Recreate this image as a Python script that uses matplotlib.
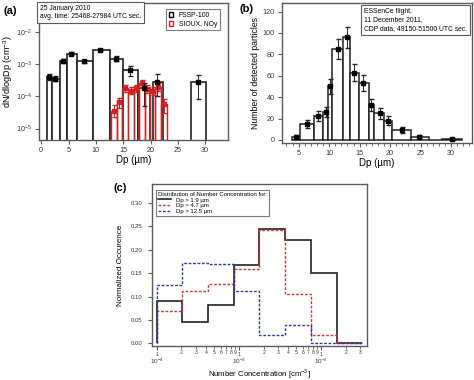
import matplotlib
matplotlib.use("Agg")
import matplotlib.pyplot as plt
import numpy as np
from matplotlib.patches import Patch
from matplotlib.ticker import FixedLocator, NullLocator, FixedFormatter, MultipleLocator

plt.rcParams['font.family'] = ['Liberation Sans', 'DejaVu Sans']
plt.rcParams['mathtext.fontset'] = 'custom'
plt.rcParams['mathtext.rm'] = 'Liberation Sans'

# ---------------- Panel (a) data ----------------
fssp_edges_lo = [1.1, 2.0, 3.4, 4.7, 6.6, 9.5, 12.6, 15.05, 17.8, 20.4, 27.4]
fssp_edges_hi = [2.0, 3.4, 4.7, 6.6, 9.5, 12.6, 15.05, 17.8, 19.9, 22.25, 30.1]
fssp_vals = [4.1e-4, 3.5e-4, 1.2e-3, 2.1e-3, 1.2e-3, 2.7e-3, 1.45e-3, 6.3e-4, 1.8e-4, 2.8e-4, 2.7e-4]
fssp_x = [1.5, 2.55, 3.9, 5.4, 7.9, 10.7, 13.6, 16.3, 18.8, 21.2, 28.7]
fssp_err_lo = [3.3e-4, 2.9e-4, 1.05e-3, 1.9e-3, 1.08e-3, 2.5e-3, 1.2e-3, 4.2e-4, 5.0e-5, 1.0e-4, 8.3e-5]
fssp_err_hi = [5.0e-4, 4.3e-4, 1.4e-3, 2.3e-3, 1.32e-3, 2.9e-3, 1.75e-3, 8.9e-4, 2.5e-4, 4.9e-4, 4.7e-4]

sioux_edges = [12.85, 13.85, 14.85, 15.9, 16.9, 17.9, 18.9, 19.9, 20.9, 21.95, 22.95]
sioux_vals = [3.6e-5, 6.5e-5, 1.8e-4, 1.5e-4, 1.8e-4, 2.5e-4, 1.7e-4, 1.5e-4, 1.9e-4, 5.9e-5]
sioux_x = [13.35, 14.3, 15.35, 16.4, 17.4, 18.4, 19.4, 20.4, 21.45, 22.4]
sioux_err_lo = [2.2e-5, 4.4e-5, 1.4e-4, 1.15e-4, 1.4e-4, 1.9e-4, 1.3e-4, 1.1e-4, 1.45e-4, 3.0e-5]
sioux_err_hi = [5.2e-5, 9.0e-5, 2.3e-4, 1.95e-4, 2.3e-4, 3.1e-4, 2.2e-4, 2.0e-4, 2.5e-4, 8.2e-5]

# ---------------- Panel (b) data ----------------
cdp_edges = [3.95, 5.2, 7.57, 9.05, 9.75, 10.5, 12.3, 13.5, 14.9, 16.5, 17.4, 19.05, 20.3, 23.4, 26.3, 28.5, 31.8]
cdp_vals = [3, 15, 22, 26, 50, 85, 96, 63, 53, 33, 25, 18, 9, 3, 0, 1]
cdp_x = [4.5, 6.4, 8.2, 9.5, 10.2, 11.5, 12.9, 14.1, 15.5, 16.9, 18.3, 19.7, 21.9, 24.7, 30.2]
cdp_pts = [3, 15, 22, 26, 50, 85, 96, 63, 53, 33, 25, 18, 9, 3, 1]
cdp_err = [1.5, 4, 4.7, 5, 7, 9, 10, 8, 7.3, 5.7, 5, 4.2, 3, 1.5, 1]

# ---------------- Panel (c) data ----------------
conc_edges = [1.0e-4, 2.05e-4, 4.22e-4, 8.66e-4, 1.78e-3, 3.65e-3, 7.5e-3, 1.54e-2, 3.16e-2]
occ_19 = [0.090, 0.046, 0.082, 0.168, 0.245, 0.222, 0.150, 0.002]
occ_47 = [0.070, 0.112, 0.126, 0.158, 0.242, 0.106, 0.0175, 0.001]
occ_125 = [0.124, 0.172, 0.169, 0.113, 0.018, 0.040, 0.001, 0.001]

frame_col = '#5a5a5a'
red = '#d42020'
fig = plt.figure(figsize=(4.74, 3.80), dpi=100)

def style_frame(ax):
    for s in ax.spines.values():
        s.set_color(frame_col)
        s.set_linewidth(1.0)
    ax.tick_params(direction='out', color=frame_col, labelcolor='#333333', width=0.8)

# ===== (a) =====
axa = fig.add_axes([0.0823, 0.632, 0.399, 0.360])
axa.set_yscale('log')
lo = np.array(fssp_edges_lo); hi = np.array(fssp_edges_hi)
axa.bar(lo, np.array(fssp_vals) - 1e-7, width=hi - lo, bottom=1e-7, align='edge',
        facecolor='white', edgecolor='#222222', linewidth=1.2, zorder=2)
se = np.array(sioux_edges)
axa.bar(se[:-1], np.array(sioux_vals) - 1e-7, width=np.diff(se), bottom=1e-7, align='edge',
        facecolor='none', edgecolor=red, linewidth=1.0, zorder=3)
sv = np.array(sioux_vals)
axa.errorbar(sioux_x, sv, yerr=[sv - np.array(sioux_err_lo), np.array(sioux_err_hi) - sv],
             fmt='s', ms=3.5, color=red, ecolor=red, elinewidth=0.7, capsize=1.8, zorder=4)
fv = np.array(fssp_vals)
axa.errorbar(fssp_x, fv, yerr=[fv - np.array(fssp_err_lo), np.array(fssp_err_hi) - fv],
             fmt='s', ms=3.5, color='black', ecolor='#222222', elinewidth=0.7, capsize=1.8, zorder=5)
axa.set_xlim(-0.4, 34.2)
axa.set_ylim(10**-5.35, 10**-1.11)
axa.yaxis.set_major_locator(FixedLocator([1e-5, 1e-4, 1e-3, 1e-2]))
axa.yaxis.set_minor_locator(NullLocator())
axa.yaxis.set_major_formatter(FixedFormatter([r'$10^{-5}$', r'$10^{-4}$', r'$10^{-3}$', r'$10^{-2}$']))
axa.xaxis.set_major_locator(FixedLocator([0, 5, 10, 15, 20, 25, 30]))
style_frame(axa)
axa.tick_params(labelsize=5.2, length=3, pad=2)
axa.set_xlabel('Dp (µm)', fontsize=7, labelpad=1)
axa.set_ylabel('dN/dlogDp (cm$^{-3}$)', fontsize=6.6, labelpad=1)
axa.text(0.006, 0.988, '25 January 2010\navg. time: 25468-27984 UTC sec.', transform=axa.transAxes,
         ha='left', va='top', fontsize=4.9, linespacing=1.3,
         bbox=dict(boxstyle='square,pad=0.4', facecolor='white', edgecolor=frame_col, linewidth=0.8))
handles = [Patch(facecolor='white', edgecolor='black', linewidth=1.0),
           Patch(facecolor='white', edgecolor=red, linewidth=1.0)]
leg = axa.legend(handles, ['FSSP-100', 'SIOUX, NOy'], loc='upper right', fontsize=4.9,
                 frameon=True, fancybox=False, handlelength=0.7, handleheight=0.7,
                 borderpad=0.4, labelspacing=0.25, handletextpad=0.8, bbox_to_anchor=(0.975, 0.98))
leg.get_frame().set_edgecolor(frame_col)
leg.get_frame().set_linewidth(0.8)
fig.text(0.008, 0.985, '(a)', fontsize=8, fontweight='bold', ha='left', va='top')

# ===== (b) =====
axb = fig.add_axes([0.594, 0.624, 0.402, 0.368])
ce = np.array(cdp_edges)
axb.bar(ce[:-1], cdp_vals, width=np.diff(ce), align='edge', facecolor='white',
        edgecolor='#222222', linewidth=1.1, zorder=2)
axb.errorbar(cdp_x, cdp_pts, yerr=cdp_err, fmt='s', ms=3.5, color='black', ecolor='#222222',
             elinewidth=0.7, capsize=1.8, zorder=4)
axb.set_xlim(2.2, 33.45)
axb.set_ylim(-2.8, 128)
axb.xaxis.set_major_locator(FixedLocator([5, 10, 15, 20, 25, 30]))
axb.xaxis.set_minor_locator(MultipleLocator(1))
axb.yaxis.set_major_locator(MultipleLocator(20))
style_frame(axb)
axb.tick_params(labelsize=5.2, length=3, pad=2)
axb.tick_params(which='minor', length=1.8, color=frame_col)
axb.set_xlabel('Dp (µm)', fontsize=7, labelpad=1)
axb.set_ylabel('Number of detected particles', fontsize=6.3, labelpad=2)
axb.text(0.975, 0.965, 'ESSenCe flight,\n11 December 2011,\nCDP data, 49150-51500 UTC sec.',
         transform=axb.transAxes, ha='right', va='top', multialignment='left',
         fontsize=4.9, linespacing=1.3,
         bbox=dict(boxstyle='square,pad=0.4', facecolor='white', edgecolor=frame_col, linewidth=0.8))
fig.text(0.506, 0.99, '(b)', fontsize=8, fontweight='bold', ha='left', va='top')

# ===== (c) =====
axc = fig.add_axes([0.320, 0.090, 0.454, 0.425])
axc.set_xscale('log')
axc.stairs(occ_19, conc_edges, color='#222222', linewidth=1.2, label='Dp > 1.9 µm')
axc.stairs(occ_47, conc_edges, color='#d03040', linewidth=1.0, linestyle=(0, (2, 1.2)), label='Dp > 4.7 µm')
axc.stairs(occ_125, conc_edges, color='#2a3a9a', linewidth=1.0, linestyle=(0, (2, 1.2)), label='Dp > 12.5 µm')
axc.set_xlim(10**-4.06, 10**-1.444)
axc.set_ylim(-0.005, 0.34)
axc.yaxis.set_major_locator(FixedLocator([0.0, 0.05, 0.10, 0.15, 0.20, 0.25, 0.30]))
axc.yaxis.set_major_formatter(FixedFormatter(['0.00', '0.05', '0.10', '0.15', '0.20', '0.25', '0.30']))
minor_pos = [m * d for d in (1e-4, 1e-3, 1e-2) for m in range(2, 10) if m * d < 0.036]
minor_lab = [str(m) for d in (1e-4, 1e-3, 1e-2) for m in range(2, 10) if m * d < 0.036]
axc.xaxis.set_major_locator(FixedLocator([1e-4, 1e-3, 1e-2]))
axc.xaxis.set_major_formatter(FixedFormatter(['1', '1', '1']))
axc.xaxis.set_minor_locator(FixedLocator(minor_pos))
axc.xaxis.set_minor_formatter(FixedFormatter(minor_lab))
style_frame(axc)
axc.tick_params(axis='both', which='major', labelsize=4.3, length=3)
axc.tick_params(axis='x', which='minor', labelsize=3.6, length=1.8, color=frame_col, pad=1.5, labelcolor='#333333')
axc.tick_params(axis='x', which='major', labelsize=3.6, pad=1.5)
sec = axc.secondary_xaxis('bottom')
sec.xaxis.set_major_locator(FixedLocator([1e-4, 1e-3, 1e-2]))
sec.xaxis.set_major_formatter(FixedFormatter([r'$10^{-4}$', r'$10^{-3}$', r'$10^{-2}$']))
sec.xaxis.set_minor_locator(NullLocator())
sec.tick_params(length=0, pad=8, labelsize=4.6, labelcolor='#333333')
sec.spines['bottom'].set_visible(False)
sec.set_xlabel('Number Concentration [cm$^{-3}$]', fontsize=5.6, labelpad=0.5)
axc.set_ylabel('Normalized Occurence', fontsize=5.8, labelpad=5)
legc = axc.legend(loc='upper left', fontsize=4.3, title='Distribution of Number Concentration for:',
                  title_fontsize=4.3, frameon=True, fancybox=False, handlelength=2.2,
                  borderpad=0.35, labelspacing=0.1, bbox_to_anchor=(0.005, 0.985))
legc._legend_box.align = 'left'
legc.get_frame().set_edgecolor(frame_col)
legc.get_frame().set_linewidth(0.8)
fig.text(0.240, 0.518, '(c)', fontsize=8, fontweight='bold', ha='left', va='top')

fig.savefig('out.png', dpi=100)
